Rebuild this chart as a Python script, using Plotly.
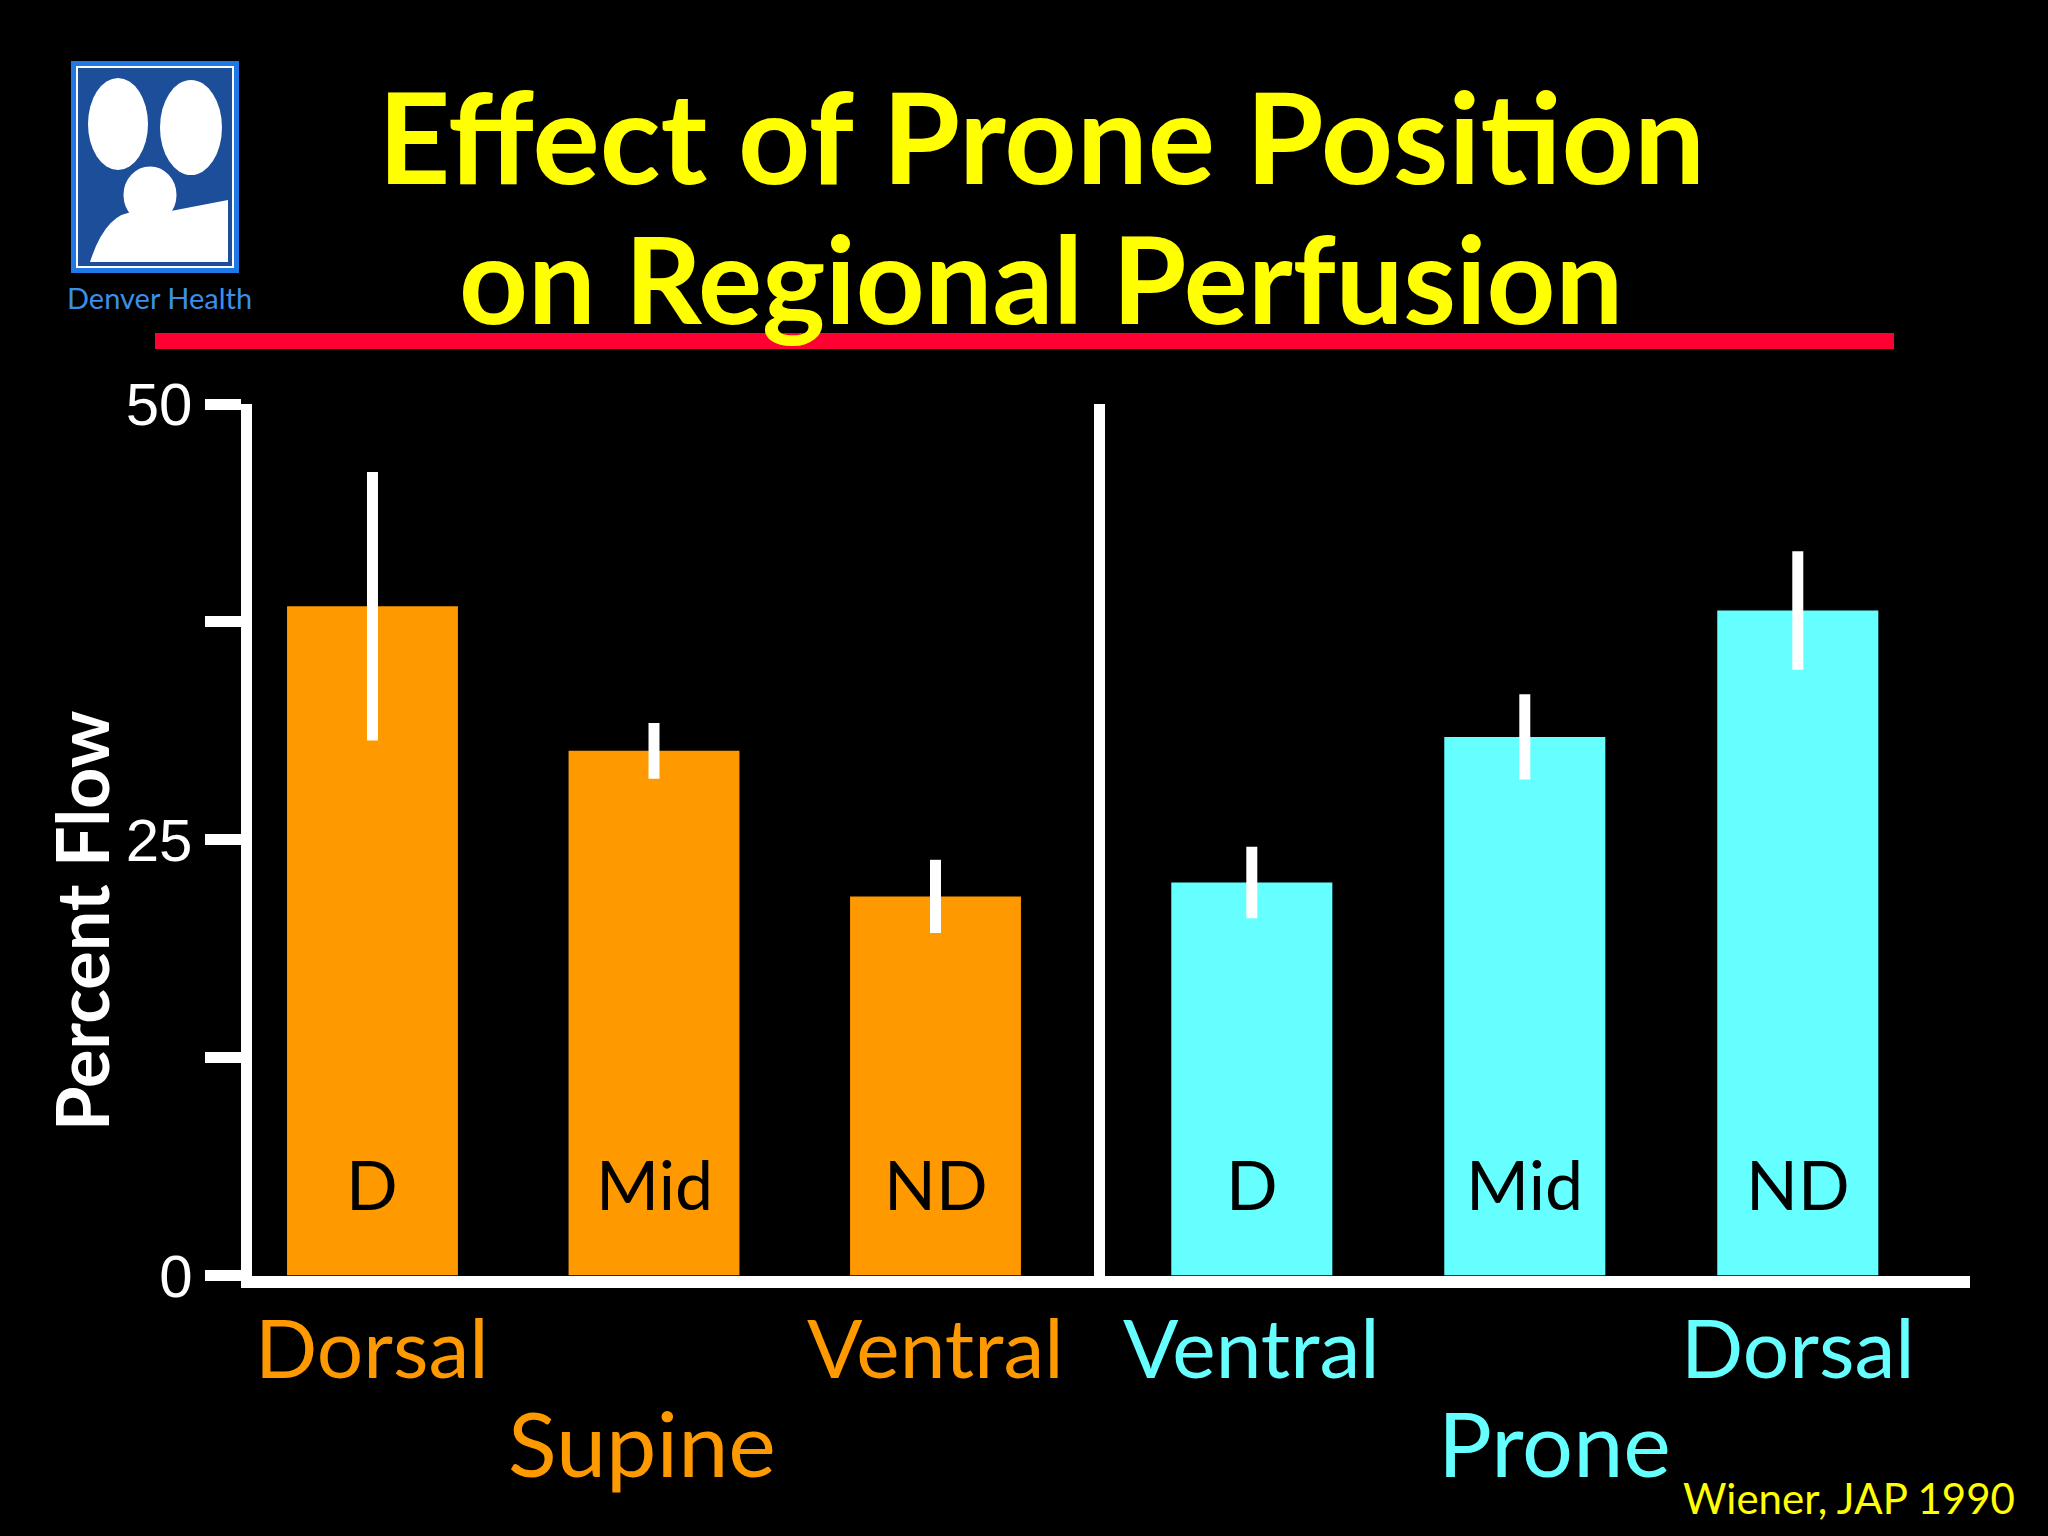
import plotly.graph_objects as go

# ---------------- data ----------------
bar_labels = ["D", "Mid", "ND"]
supine_values = [38.4, 30.1, 21.75]
supine_errors = [7.7, 1.6, 2.1]
prone_values = [22.55, 30.9, 38.15]
prone_errors = [2.05, 2.45, 3.4]
supine_region_labels = ["Dorsal", "", "Ventral"]
prone_region_labels = ["Ventral", "", "Dorsal"]
group_labels = ["Supine", "Prone"]
y_tick_values = [0, 12.5, 25, 37.5, 50]
y_tick_text = ["0", "", "25", "", "50"]

W, H = 2048, 1536
def px(x):
    return x / W
def py(y):
    return 1 - y / H

ORANGE = "#FF9900"
CYAN = "#66FFFF"
YELLOW = "#FFFF00"
COMIC = "Lato, 'Open Sans', sans-serif"

fig = go.Figure()
fig.add_trace(go.Bar(
    x=bar_labels, y=supine_values, width=0.607,
    marker=dict(color=ORANGE, line=dict(width=0)),
    error_y=dict(type="data", array=supine_errors, color="white", thickness=11, width=0),
    xaxis="x", yaxis="y", hoverinfo="skip"))
fig.add_trace(go.Bar(
    x=bar_labels, y=prone_values, width=0.59,
    marker=dict(color=CYAN, line=dict(width=0)),
    error_y=dict(type="data", array=prone_errors, color="white", thickness=11, width=0),
    xaxis="x2", yaxis="y2", hoverinfo="skip"))

ydom = [py(1275.5), py(404)]
axis_common = dict(showgrid=False, zeroline=False, fixedrange=True, automargin=False)

annotations = []
# labels inside bars
for xr in ["x", "x2"]:
    for lab in bar_labels:
        annotations.append(dict(x=lab, y=5.3, xref=xr, yref="y" if xr == "x" else "y2",
                                text=lab, showarrow=False,
                                font=dict(family=COMIC, size=68, color="black")))
# region labels under the axis
for lab_list, xr, col in [(supine_region_labels, "x", ORANGE), (prone_region_labels, "x2", CYAN)]:
    for cat, lab in zip(bar_labels, lab_list):
        if lab:
            annotations.append(dict(x=cat, y=py(1346), xref=xr, yref="paper", text=lab,
                                    showarrow=False, yanchor="middle",
                                    font=dict(family=COMIC, size=82, color=col)))
# group labels
annotations.append(dict(x="Mid", y=py(1442), xref="x", yref="paper", text=group_labels[0],
                        showarrow=False, yanchor="middle", xshift=-12,
                        font=dict(family=COMIC, size=90, color=ORANGE)))
annotations.append(dict(x="Mid", y=py(1442), xref="x2", yref="paper", text=group_labels[1],
                        showarrow=False, yanchor="middle", xshift=30,
                        font=dict(family=COMIC, size=90, color=CYAN)))
# title
annotations.append(dict(x=px(1041), y=py(136), xref="paper", yref="paper",
                        text="<b>Effect of Prone Position</b>", showarrow=False,
                        xanchor="center", yanchor="middle",
                        font=dict(family=COMIC, size=126, color=YELLOW)))
annotations.append(dict(x=px(1041), y=py(278), xref="paper", yref="paper",
                        text="<b>on Regional Perfusion</b>", showarrow=False,
                        xanchor="center", yanchor="middle",
                        font=dict(family=COMIC, size=120, color=YELLOW)))
# y axis title
annotations.append(dict(x=px(81), y=py(921), xref="paper", yref="paper",
                        text="<b>Percent Flow</b>", textangle=-90, showarrow=False,
                        xanchor="center", yanchor="middle",
                        font=dict(family=COMIC, size=72, color="white")))
# logo caption
annotations.append(dict(x=px(159), y=py(298), xref="paper", yref="paper",
                        text="Denver Health", showarrow=False,
                        xanchor="center", yanchor="middle",
                        font=dict(family=COMIC, size=29, color="#3C8FE6")))
# citation
annotations.append(dict(x=px(2017), y=py(1498), xref="paper", yref="paper",
                        text="Wiener, JAP 1990", showarrow=False,
                        xanchor="right", yanchor="middle",
                        font=dict(family=COMIC, size=42, color=YELLOW)))

shapes = [
    # red rule under title
    dict(type="rect", xref="paper", yref="paper", x0=px(155), x1=px(1894), y0=py(349), y1=py(333),
         fillcolor="#FF0033", line=dict(width=0), layer="above"),
    # logo
    dict(type="rect", xref="paper", yref="paper", x0=px(71), x1=px(239), y0=py(273), y1=py(61),
         fillcolor="#1E78E6", line=dict(width=0)),
    dict(type="rect", xref="paper", yref="paper", x0=px(76), x1=px(234), y0=py(268), y1=py(66),
         fillcolor="white", line=dict(width=0)),
    dict(type="rect", xref="paper", yref="paper", x0=px(78), x1=px(232), y0=py(266), y1=py(68),
         fillcolor="#1D4E9A", line=dict(width=0)),
    dict(type="circle", xref="paper", yref="paper", x0=px(88), x1=px(148), y0=py(170), y1=py(78),
         fillcolor="white", line=dict(width=0)),
    dict(type="circle", xref="paper", yref="paper", x0=px(160), x1=px(222), y0=py(175), y1=py(80),
         fillcolor="white", line=dict(width=0)),
    dict(type="circle", xref="paper", yref="paper", x0=px(122), x1=px(178), y0=py(225), y1=py(165),
         fillcolor="white", line=dict(color="#1D4E9A", width=3)),
    dict(type="path", xref="paper", yref="paper",
         path=f"M {px(90)} {py(262)} Q {px(110)} {py(200)} {px(150)} {py(215)} "
              f"L {px(228)} {py(200)} L {px(228)} {py(262)} Z",
         fillcolor="white", line=dict(width=0)),
]

fig.update_layout(
    width=W, height=H,
    autosize=False,
    margin=dict(l=0, r=0, t=0, b=0, pad=0),
    paper_bgcolor="black", plot_bgcolor="black",
    showlegend=False,
    xaxis=dict(domain=[px(251.5), px(1099)], range=[-0.4298, 2.5808], type="category",
               showline=True, linecolor="white", linewidth=12, ticks="", showticklabels=False,
               anchor="y", **axis_common),
    yaxis=dict(domain=ydom, range=[0, 50], showline=True, linecolor="white", linewidth=11,
               ticks="outside", ticklen=36, tickwidth=11, tickcolor="white",
               tickvals=y_tick_values, ticktext=y_tick_text,
               tickfont=dict(family="Liberation Sans, Arial, sans-serif", size=60, color="white"),
               anchor="x", **axis_common),
    xaxis2=dict(domain=[px(1104.5), px(1970)], range=[-0.5396, 2.6308], type="category",
                showline=True, linecolor="white", linewidth=12, ticks="", showticklabels=False,
                anchor="y2", **axis_common),
    yaxis2=dict(domain=ydom, range=[0, 50], showline=True, linecolor="white", linewidth=11,
                ticks="", showticklabels=False, anchor="x2", **axis_common),
    annotations=annotations,
    shapes=shapes,
)

fig.write_html("out.html", config={"displayModeBar": False})
